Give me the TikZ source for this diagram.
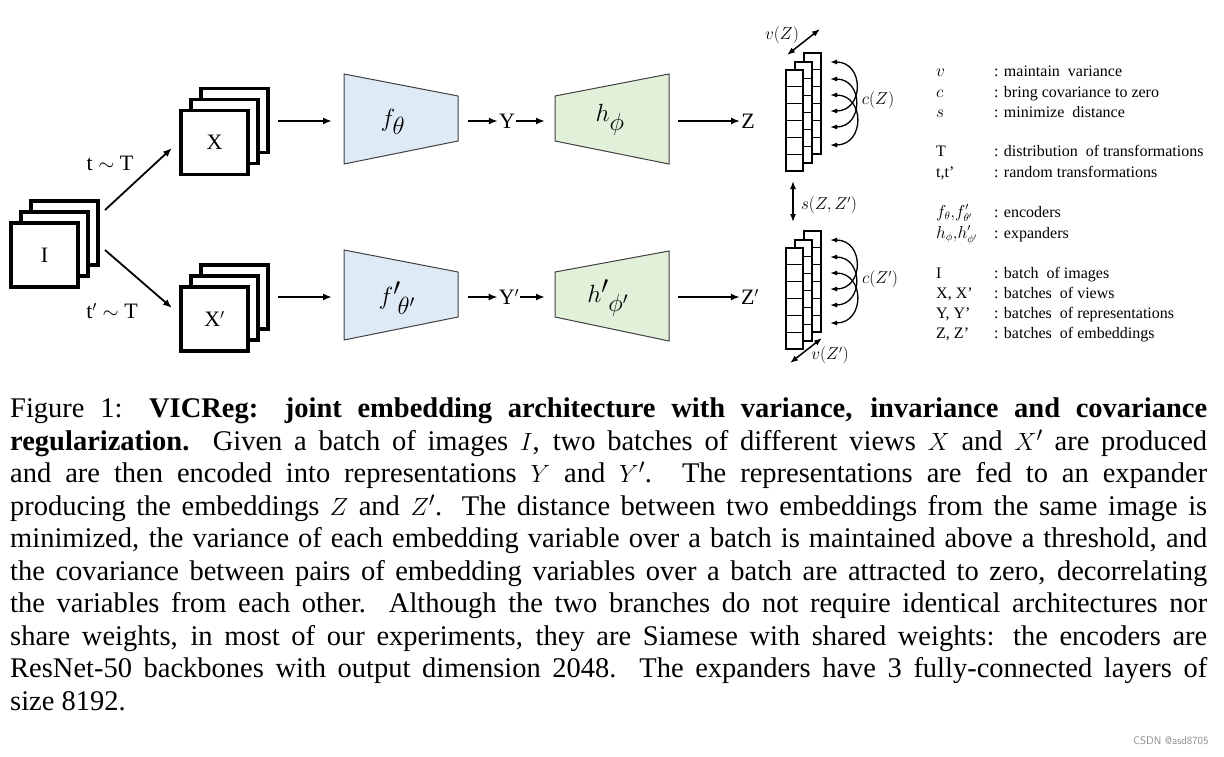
\documentclass[tikz,border=0pt]{standalone}
\usepackage{fontspec}
\setmainfont{Liberation Serif}
\usetikzlibrary{arrows.meta}
\definecolor{encblue}{RGB}{222,235,247}
\definecolor{expgreen}{RGB}{226,240,217}
\begin{document}
\begin{tikzpicture}[x=1pt,y=-1pt,
  card/.style={draw,line width=3.4pt,fill=white,minimum width=67pt,minimum height=64pt,inner sep=0pt,font=\fontsize{22}{24}\selectfont},
  arr/.style={-{Latex[length=9pt,width=7pt]},line width=1.8pt},
  darr/.style={{Latex[length=8pt,width=6pt]}-{Latex[length=8pt,width=6pt]},line width=1.5pt},
  carr/.style={{Latex[length=7pt,width=5pt]}-{Latex[length=7pt,width=5pt]},line width=1.3pt},
  lab/.style={font=\fontsize{22}{24}\selectfont,inner sep=1pt},
  enc/.style={draw=black!75,line width=1pt,fill=encblue},
  expd/.style={draw=black!75,line width=1pt,fill=expgreen},
  leg/.style={font=\fontsize{16}{17}\selectfont,anchor=base west,inner sep=0pt},
  col/.style={draw,line width=2.8pt,fill=white},
  cell/.style={line width=1.3pt},
  sm/.style={font=\fontsize{16}{17}\selectfont}]
\useasboundingbox (0,0) rectangle (1224,756);
\newcommand\stackcards[4]{%
  \node[card] at (#2+20,#3-22) {};
  \node[card] at (#2+10,#3-11) {};
  \node[card] (#1) at (#2,#3) {#4};}
\stackcards{I}{44.5}{255}{I}
\stackcards{X}{214.5}{142.5}{X}
\stackcards{Xp}{214.5}{319}{X$'$}
\coordinate (a1) at (105,210); \coordinate (a2) at (172,148);
\coordinate (b1) at (105,250); \coordinate (b2) at (172,308);
\draw[arr] (a1) -- (a2);
\draw[arr] (b1) -- (b2);
\node[lab] (tT) at (110,163) {t $\sim$ T};
\node[lab] (tpT) at (112,311) {t$'\sim$ T};
\draw[enc] (344,74) -- (458,96) -- (458,141) -- (344,164) -- cycle;
\node[font=\fontsize{34}{36}\selectfont] (f) at (393,122) {$f_\theta$};
\draw[enc] (344,250) -- (458,272) -- (458,317) -- (344,340) -- cycle;
\node[font=\fontsize{34}{36}\selectfont] (fp) at (397,298) {$f'_{\;\theta'}$};
\draw[expd] (555,96) -- (669,74) -- (669,164) -- (555,141) -- cycle;
\node[font=\fontsize{34}{36}\selectfont] (h) at (610,120) {$h_\phi$};
\draw[expd] (555,272) -- (669,251) -- (669,341) -- (555,317) -- cycle;
\node[font=\fontsize{34}{36}\selectfont] (hp) at (608,298) {$h'_{\;\phi'}$};
\coordinate (xe) at (278,121); \coordinate (fe) at (332,121);
\draw[arr] (xe) -- (fe);
\node[lab] (Y) at (507,121) {Y};
\node[lab] (Z) at (748,121) {Z};
\coordinate (fo) at (468,121); \coordinate (hi) at (545,121); \coordinate (ho) at (678,121);
\draw[arr] (fo) -- (Y.west);
\draw[arr] (Y.east) -- (hi);
\draw[arr] (ho) -- (Z.west);
\coordinate (xe2) at (278,297); \coordinate (fe2) at (332,297);
\draw[arr] (xe2) -- (fe2);
\node[lab] (Yp) at (509,297) {Y$'$};
\node[lab] (Zp) at (750,297) {Z$'$};
\coordinate (fo2) at (468,297); \coordinate (hi2) at (545,297); \coordinate (ho2) at (678,297);
\draw[arr] (fo2) -- (Yp.west);
\draw[arr] (Yp.east) -- (hi2);
\draw[arr] (ho2) -- (Zp.west);
\newcommand\embcol[3]{%
  \draw[col] (#1,#2) rectangle (#1+17,#2+#3);
  \foreach \k in {1,...,5}{\draw[cell] (#1,#2+\k*#3/6) -- (#1+17,#2+\k*#3/6);}}
\foreach \dy in {0,178}{
  \embcol{804}{53+\dy}{101}
  \embcol{795}{62+\dy}{101}
  \embcol{786}{70+\dy}{101}
  \draw[carr] (830,62+\dy) to[out=0,in=0,looseness=1.8] (830,111+\dy);
  \draw[carr] (830,79+\dy) to[out=0,in=0,looseness=1.8] (830,127+\dy);
  \draw[carr] (830,95+\dy) to[out=0,in=0,looseness=1.8] (830,145+\dy);
}
\node[sm] (cZ) at (878,100) {$c(Z)$};
\node[sm] (cZp) at (880,279) {$c(Z')$};
\node[sm] (vZ) at (782,35) {$v(Z)$};
\node[sm] (vZp) at (830,355) {$v(Z')$};
\node[sm] (sZ) at (829,205) {$s(Z,Z')$};
\coordinate (v1) at (787,55); \coordinate (v2) at (820,29);
\draw[darr] (v1) -- (v2);
\coordinate (v3) at (790,363); \coordinate (v4) at (822,338);
\draw[darr] (v3) -- (v4);
\coordinate (s1) at (793,181); \coordinate (s2) at (793,222);
\draw[darr] (s1) -- (s2);
\foreach \y/\a/\b in {76/$v$/: maintain\ \ variance, 97/$c$/: bring covariance to zero, 117/$s$/: minimize\ \ distance,
  156/T/: distribution\ \ of transformations, 177/{t,t'}/: random transformations,
  217/{$f_\theta,\! f'_{\theta'}$}/: encoders, 238/{$h_\phi,\! h'_{\phi'}$}/: expanders,
  278/I/: batch\ \ of images, 298/{X, X'}/: batches\ \ of views, 318/{Y, Y'}/: batches\ \ of representations, 338/{Z, Z'}/: batches\ \ of embeddings}
{ \node[leg] at (936,\y) {\a}; \node[leg] at (994,\y) {\b}; }
\node[anchor=north west,inner sep=0pt,text width=1197pt,align=justify,font=\fontsize{28.5}{32.5}\selectfont] (cap) at (10,398)
{\hyphenpenalty=10000 Figure 1: \textbf{VICReg: joint embedding architecture with variance, invariance and covariance}\linebreak \textbf{regularization.} Given a batch of images $I$, two batches of different views $X$ and $X'$ are produced\linebreak and are then encoded into representations $Y$ and $Y'$. The representations are fed to an expander\linebreak producing the embeddings $Z$ and $Z'$. The distance between two embeddings from the same image is\linebreak minimized, the variance of each embedding variable over a batch is maintained above a threshold, and\linebreak the covariance between pairs of embedding variables over a batch are attracted to zero, decorrelating\linebreak the variables from each other. Although the two branches do not require identical architectures nor\linebreak share weights, in most of our experiments, they are Siamese with shared weights: the encoders are\linebreak ResNet-50 backbones with output dimension 2048. The expanders have 3 fully-connected layers of\linebreak size 8192.};
\node[font=\sffamily\fontsize{11}{12}\selectfont,text=black!45,anchor=east] (wm) at (1212,741) {CSDN @asd8705};
\end{tikzpicture}
\end{document}
